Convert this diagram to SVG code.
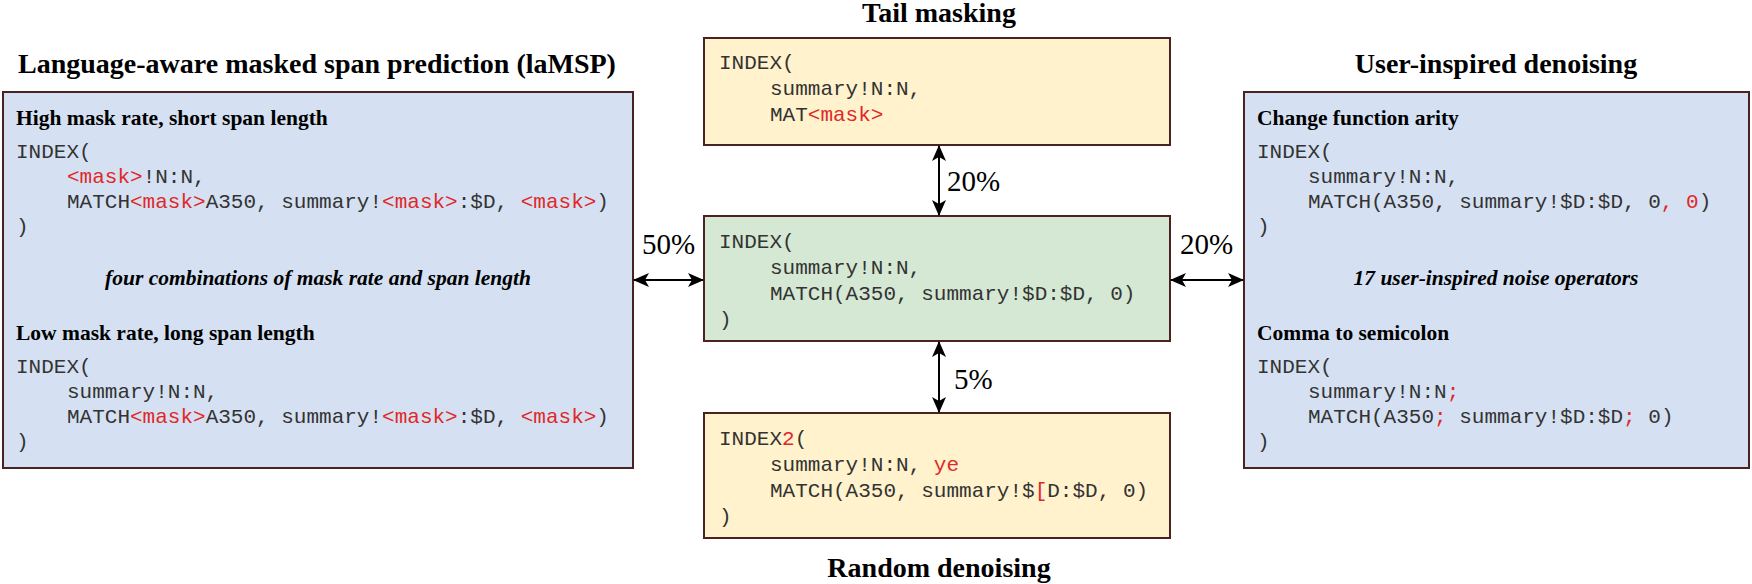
<svg xmlns="http://www.w3.org/2000/svg" width="1752" height="584" viewBox="0 0 1752 584">
<style>
.box{stroke:#4a2222;stroke-width:2}
.blue{fill:#d5e1f2}.green{fill:#d5e8d4}.yellow{fill:#fff2cc}
.code{font-family:"Liberation Mono",monospace;font-size:21px;fill:#333;white-space:pre}
.r{fill:#e02828}
.title{font-family:"Liberation Serif",serif;font-weight:bold;font-size:28px;fill:#000}
.head{font-family:"Liberation Serif",serif;font-weight:bold;font-size:21.5px;fill:#000}
.ital{font-family:"Liberation Serif",serif;font-weight:bold;font-style:italic;font-size:21.5px;fill:#000;text-anchor:middle}
.pct{font-family:"Liberation Serif",serif;font-size:29px;fill:#000}
.arr{stroke:#000;stroke-width:2;fill:none;marker-start:url(#ah);marker-end:url(#ah)}
</style>
<defs>
<marker id="ah" viewBox="0 0 16 14" refX="15" refY="7" markerWidth="16" markerHeight="14" markerUnits="userSpaceOnUse" orient="auto-start-reverse">
<path d="M0,0 L16,7 L0,14 L4,7 Z" fill="#000"/>
</marker>
</defs>
<g id="titles">
<text class="title" x="317" y="73" text-anchor="middle">Language-aware masked span prediction (laMSP)</text>
<text class="title" x="939" y="22" text-anchor="middle">Tail masking</text>
<text class="title" x="939" y="577" text-anchor="middle">Random denoising</text>
<text class="title" x="1496" y="73" text-anchor="middle">User-inspired denoising</text>
</g>
<g id="lamsp">
<rect class="box blue" x="3" y="92" width="630" height="376"/>
<text class="head" x="16" y="125">High mask rate, short span length</text>
<text class="code" x="16" y="158">INDEX(</text>
<text class="code" x="67" y="183"><tspan class="r">&lt;mask&gt;</tspan>!N:N,</text>
<text class="code" x="67" y="208">MATCH<tspan class="r">&lt;mask&gt;</tspan>A350, summary!<tspan class="r">&lt;mask&gt;</tspan>:$D, <tspan class="r">&lt;mask&gt;</tspan>)</text>
<text class="code" x="16" y="233">)</text>
<text class="ital" x="318" y="285">four combinations of mask rate and span length</text>
<text class="head" x="16" y="340">Low mask rate, long span length</text>
<text class="code" x="16" y="373">INDEX(</text>
<text class="code" x="67" y="398">summary!N:N,</text>
<text class="code" x="67" y="423">MATCH<tspan class="r">&lt;mask&gt;</tspan>A350, summary!<tspan class="r">&lt;mask&gt;</tspan>:$D, <tspan class="r">&lt;mask&gt;</tspan>)</text>
<text class="code" x="16" y="448">)</text>
</g>
<g id="tail">
<rect class="box yellow" x="704" y="38" width="466" height="107"/>
<text class="code" x="719" y="69">INDEX(</text>
<text class="code" x="770" y="95">summary!N:N,</text>
<text class="code" x="770" y="121">MAT<tspan class="r">&lt;mask&gt;</tspan></text>
</g>
<g id="original">
<rect class="box green" x="704" y="216" width="466" height="125"/>
<text class="code" x="719" y="248">INDEX(</text>
<text class="code" x="770" y="274">summary!N:N,</text>
<text class="code" x="770" y="300">MATCH(A350, summary!$D:$D, 0)</text>
<text class="code" x="719" y="326">)</text>
</g>
<g id="random">
<rect class="box yellow" x="704" y="413" width="466" height="125"/>
<text class="code" x="719" y="445">INDEX<tspan class="r">2</tspan>(</text>
<text class="code" x="770" y="471">summary!N:N, <tspan class="r">ye</tspan></text>
<text class="code" x="770" y="497">MATCH(A350, summary!$<tspan class="r">[</tspan>D:$D, 0)</text>
<text class="code" x="719" y="523">)</text>
</g>
<g id="user">
<rect class="box blue" x="1244" y="92" width="505" height="376"/>
<text class="head" x="1257" y="125">Change function arity</text>
<text class="code" x="1257" y="158">INDEX(</text>
<text class="code" x="1308" y="183">summary!N:N,</text>
<text class="code" x="1308" y="208">MATCH(A350, summary!$D:$D, 0<tspan class="r">, 0</tspan>)</text>
<text class="code" x="1257" y="233">)</text>
<text class="ital" x="1496" y="285">17 user-inspired noise operators</text>
<text class="head" x="1257" y="340">Comma to semicolon</text>
<text class="code" x="1257" y="373">INDEX(</text>
<text class="code" x="1308" y="398">summary!N:N<tspan class="r">;</tspan></text>
<text class="code" x="1308" y="423">MATCH(A350<tspan class="r">;</tspan> summary!$D:$D<tspan class="r">;</tspan> 0)</text>
<text class="code" x="1257" y="448">)</text>
</g>
<g id="connectors">
<line class="arr" x1="939" y1="146" x2="939" y2="215"/>
<line class="arr" x1="939" y1="342" x2="939" y2="412"/>
<line class="arr" x1="634" y1="280" x2="703" y2="280"/>
<line class="arr" x1="1171" y1="280" x2="1243" y2="280"/>
<text class="pct" x="947" y="191">20%</text>
<text class="pct" x="954" y="389">5%</text>
<text class="pct" x="642" y="254">50%</text>
<text class="pct" x="1180" y="254">20%</text>
</g>
</svg>
